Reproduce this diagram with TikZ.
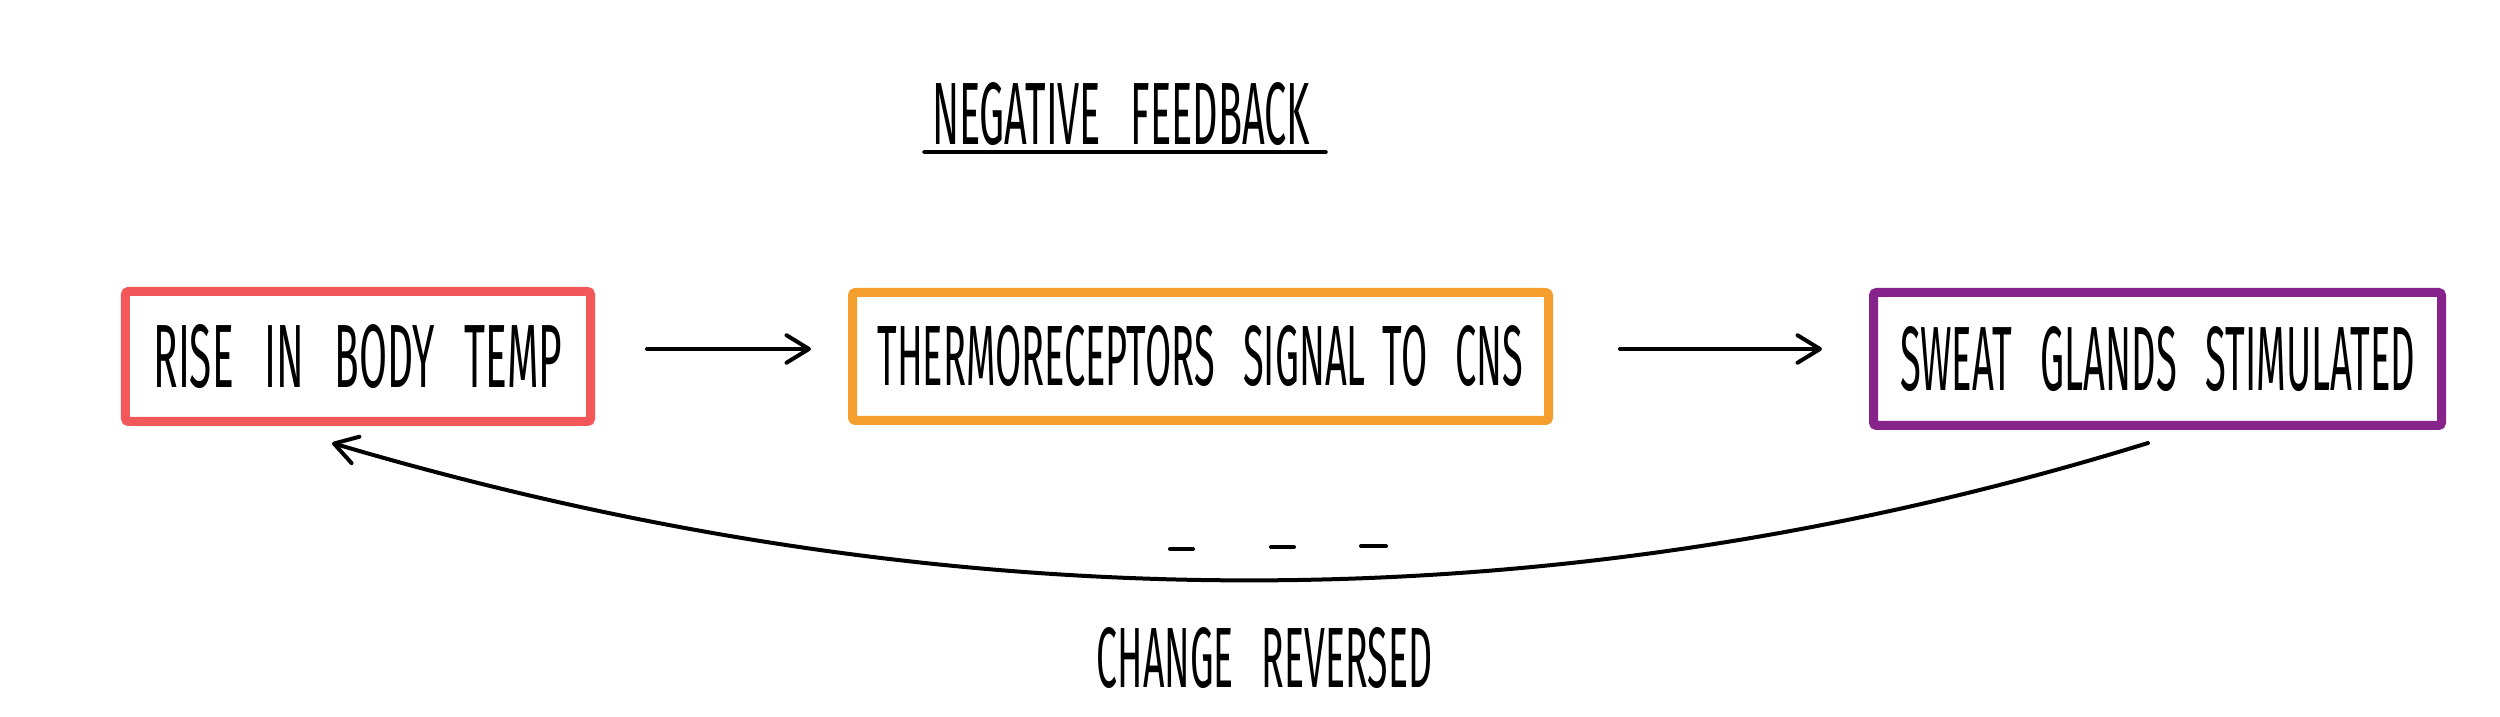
\documentclass[tikz,border=0pt]{standalone}
\usepackage{fontspec}
\setsansfont{Fira Sans}
\usetikzlibrary{arrows.meta,calc}
\definecolor{cred}{RGB}{242,88,90}
\definecolor{corange}{RGB}{243,158,45}
\definecolor{cpurple}{RGB}{134,36,140}
\newcommand{\hw}[3]{\resizebox{#1}{#2}{\sffamily #3}}
\newcommand{\wgap}{\hspace{0.75em}}
\begin{document}
\begin{tikzpicture}[x=0.4pt,y=-0.4pt,
  stagebox/.style={draw, line width=3.6pt, rounded corners=1.2pt, inner sep=0pt, fill=white},
  lbl/.style={inner sep=0pt},
  conn/.style={line width=1.6pt, line cap=round, -{Straight Barb[length=9pt,width=11pt,round]}},
  dashmark/.style={line width=1.6pt, line cap=round}
]
\useasboundingbox[fill=white] (0,0) rectangle (2500,717);
\node[lbl] (title) at (1121,114) {\hw{151.2pt}{24.8pt}{NEGATIVE\wgap FEEDBACK}};
\draw[line width=1.8pt, line cap=round] ($(title.south west)+(-7,6)$) -- ($(title.south east)+(15,6)$);

\node[stagebox, draw=cred, minimum width=186pt, minimum height=52pt] (rise) at (358,356.5) {\hw{163.6pt}{25.2pt}{RISE\wgap IN\wgap BODY\wgap TEMP}};
\node[stagebox, draw=corange, minimum width=278.4pt, minimum height=51.2pt] (thermo) at (1200.5,356.5) {\hw{258.4pt}{24pt}{THERMORECEPTORS\wgap SIGNAL\hspace{0.45em}TO\wgap CNS}};
\node[stagebox, draw=cpurple, minimum width=227.2pt, minimum height=53.2pt] (sweat) at (2157.5,359) {\hw{206pt}{25.6pt}{SWEAT\wgap GLANDS\wgap STIMULATED}};

\draw[conn, shorten <=20.8pt, shorten >=14.8pt] ([yshift=3pt]rise.east) -- ([yshift=3pt]thermo.west);
\draw[conn, shorten <=26.8pt, shorten >=18.8pt] ([yshift=3pt]thermo.east) -- ([yshift=3pt]thermo.east -| sweat.west);

\coordinate (cstart) at ([xshift=-3.8pt,yshift=-5.2pt]sweat.south);
\coordinate (cend) at ([xshift=-10.4pt,yshift=-6.8pt]rise.south);
\draw[conn] (cstart) .. controls (1556,626) and (951,626) .. (cend);

\draw[dashmark] (1170,549) -- (1193,549);
\draw[dashmark] (1271,547) -- (1294,547);
\draw[dashmark] (1361,546) -- (1386,546);

\node[lbl] (rev) at (1264.5,658) {\hw{134pt}{24pt}{CHANGE\wgap REVERSED}};
\end{tikzpicture}
\end{document}
